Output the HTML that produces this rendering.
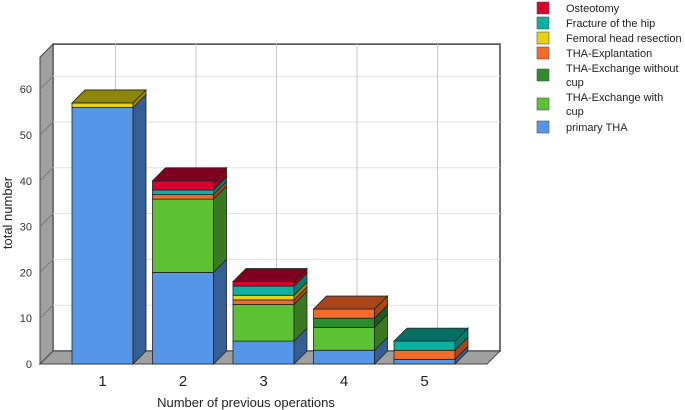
<!DOCTYPE html>
<html><head><meta charset="utf-8">
<style>
body{margin:0;background:#fff;}
svg{display:block;font-family:"Liberation Sans","DejaVu Sans",sans-serif;}
</style></head>
<body>
<svg id="chart" width="685" height="410" viewBox="0 0 685 410" xmlns="http://www.w3.org/2000/svg"></svg>
<script>
const categories = ["1","2","3","4","5"];
const seriesNames = ["primary THA","THA-Exchange with cup","THA-Exchange without cup","THA-Explantation","Femoral head resection","Fracture of the hip","Osteotomy"];
const primaryTHA   = [56,20,5,3,1];
const exchangeWithCup = [0,16,8,5,0];
const exchangeWithoutCup = [0,0,0,2,0];
const explantation = [0,1,1,2,2];
const femoralHead  = [1,0,1,0,0];
const fracture     = [0,1,2,0,2];
const osteotomy    = [0,2,1,0,0];
const yTicks = [0,10,20,30,40,50,60];

const series = [primaryTHA,exchangeWithCup,exchangeWithoutCup,explantation,femoralHead,fracture,osteotomy];
const frontCol = ["#5596e6","#5dc134","#2e8b2e","#f26b2a","#e8d313","#0bb0a0","#d9002f"];
const sideCol  = ["#345e94","#3a7a22","#1d5a1d","#a8461a","#9a8c0c","#077a6e","#8c001e"];
const topCol   = ["#345e94","#3a7a22","#1d5a1d","#a8461a","#8f8509","#066f63","#80001f"];

const svg = document.getElementById('chart');
const NS = "http://www.w3.org/2000/svg";
function mk(tag, attrs){const el=document.createElementNS(NS,tag);for(const k in attrs)el.setAttribute(k,attrs[k]);svg.appendChild(el);return el;}

const y0 = 364, kk = 4.58, D = 13;
const yScale = v => y0 - v*kk;
const step = 80.5, x1 = 72, bw = 61;
const xLeft = i => x1 + i*step;
const xMin = 40, xMax = 487, yMaxV = 67;

let el;
el = mk('rect',{x:xMin+D,y:yScale(yMaxV)-D,width:xMax-xMin,height:yScale(0)-yScale(yMaxV),fill:"#fff",stroke:"#444","stroke-width":1.5});


el = mk('polygon',{points:`${xMin},${yScale(0)} ${xMin},${yScale(yMaxV)} ${xMin+D},${yScale(yMaxV)-D} ${xMin+D},${yScale(0)-D}`,fill:"#a0a0a0",stroke:"#444","stroke-width":1});


yTicks.forEach(t=>{ if(t===0)return;
  const l=mk('line',{x1:xMin+D,x2:xMax+D,y1:yScale(t)-D,y2:yScale(t)-D,stroke:"#e2e2e2"});
  
  
  const l2=mk('line',{x1:xMin,x2:xMin+D,y1:yScale(t),y2:yScale(t)-D,stroke:"#777"});
  
  
});
categories.forEach((c,i)=>{
  const cx = xLeft(i)+bw/2+D;
  const l=mk('line',{x1:cx,x2:cx,y1:yScale(yMaxV)-D,y2:yScale(0)-D,stroke:"#c8c8c8"});
  
  
});
el = mk('polygon',{points:`${xMin},${yScale(0)} ${xMax},${yScale(0)} ${xMax+D},${yScale(0)-D} ${xMin+D},${yScale(0)-D}`,fill:"#a0a0a0",stroke:"#444","stroke-width":1});



categories.forEach((c,i)=>{
  let base=0; const xl=xLeft(i), xr=xl+bw;
  let lastIdx=0;
  series.forEach((s,j)=>{
    const v=s[i]; if(!v)return;
    const yb=yScale(base), yt=yScale(base+v);
    const f=mk('rect',{x:xl,y:yt,width:bw,height:yb-yt,fill:frontCol[j],stroke:"#222","stroke-width":0.8});
    
    
    const sd=mk('polygon',{points:`${xr},${yb} ${xr},${yt} ${xr+D},${yt-D} ${xr+D},${yb-D}`,fill:sideCol[j],stroke:"#222","stroke-width":0.8});
    
    
    base+=v; lastIdx=j;
  });
  const yt=yScale(base);
  const tp=mk('polygon',{points:`${xl},${yt} ${xr},${yt} ${xr+D},${yt-D} ${xl+D},${yt-D}`,fill:topCol[lastIdx],stroke:"#222","stroke-width":0.8});
  
  
  const lb=mk('text',{x:xl+bw/2,y:386,"text-anchor":"middle","font-size":15,fill:"#222"});
  lb.textContent=c;
  
  
});
yTicks.forEach(t=>{
  const tx=mk('text',{x:32,y:yScale(t)+4,"text-anchor":"end","font-size":11,fill:"#333"});
  tx.textContent=t;
  
  
});
el=mk('text',{x:12,y:213,"text-anchor":"middle","font-size":13,fill:"#222",transform:"rotate(-90 12 213)"});
el.textContent="total number";


el=mk('text',{x:246,y:407,"text-anchor":"middle","font-size":13,fill:"#222"});
el.textContent="Number of previous operations";



const legend=[["Osteotomy",6,8],["Fracture of the hip",5,23],["Femoral head resection",4,38],["THA-Explantation",3,53],["THA-Exchange without|cup",2,75],["THA-Exchange with|cup",1,104],["primary THA",0,127]];
legend.forEach(([name,j,yc])=>{
  const r=mk('rect',{x:537,y:yc-6,width:12,height:12,fill:frontCol[j],stroke:"#555","stroke-width":0.6});
  
  
  const lines=name.split('|');
  const ty = lines.length>1 ? yc-3 : yc+4;
  lines.forEach((ln,li)=>{
    const t=mk('text',{x:566,y:ty+li*14,"font-size":11,fill:"#222"});
    t.textContent=ln;
    
    
  });
});
</script>
</body></html>
